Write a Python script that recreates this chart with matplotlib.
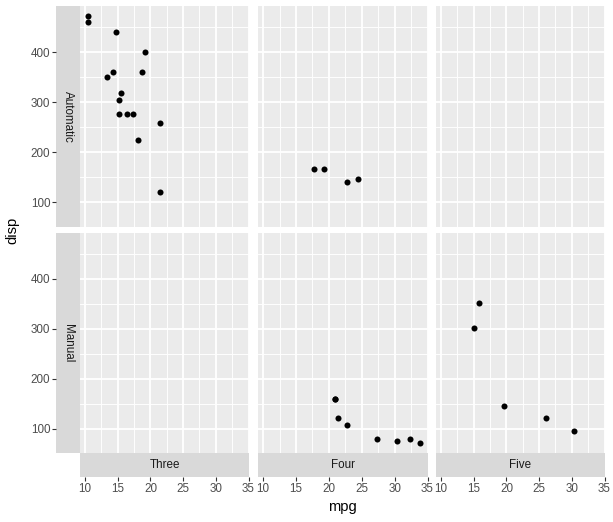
import numpy as np
import pandas as pd
import matplotlib.pyplot as plt

plt.rcParams['font.family'] = ['Liberation Sans', 'DejaVu Sans']

## the data (mtcars: mpg, disp, am, gear)
mpg = [21.0, 21.0, 22.8, 21.4, 18.7, 18.1, 14.3, 24.4, 22.8, 19.2, 17.8,
       16.4, 17.3, 15.2, 10.4, 10.4, 14.7, 32.4, 30.4, 33.9, 21.5, 15.5,
       15.2, 13.3, 19.2, 27.3, 26.0, 30.4, 15.8, 19.7, 15.0, 21.4]
disp = [160.0, 160.0, 108.0, 258.0, 360.0, 225.0, 360.0, 146.7, 140.8,
        167.6, 167.6, 275.8, 275.8, 275.8, 472.0, 460.0, 440.0, 78.7, 75.7,
        71.1, 120.1, 318.0, 304.0, 350.0, 400.0, 79.0, 120.3, 95.1, 351.0,
        145.0, 301.0, 121.0]
am = [1, 1, 1, 0, 0, 0, 0, 0, 0, 0, 0, 0, 0, 0, 0, 0, 0, 1, 1, 1, 0, 0,
      0, 0, 0, 1, 1, 1, 1, 1, 1, 1]
gear = [4, 4, 4, 3, 3, 3, 3, 4, 4, 4, 4, 3, 3, 3, 3, 3, 3, 4, 4, 4, 3, 3,
        3, 3, 3, 4, 5, 5, 5, 5, 5, 4]

row_vals = [0, 1]
row_labels = ['Automatic', 'Manual']
col_vals = [3, 4, 5]
col_labels = ['Three', 'Four', 'Five']
x_ticks = [10, 15, 20, 25, 30, 35]
y_ticks = [100, 200, 300, 400]

df = pd.DataFrame({'mpg': mpg, 'disp': disp, 'am': am, 'gear': gear})

# shared limits with ggplot's 5% expansion
def expand(v):
    lo, hi = min(v), max(v)
    pad = (hi - lo) * 0.05
    return lo - pad, hi + pad

xlim = expand(mpg)
ylim = expand(disp)

W, H = 613, 522
fig = plt.figure(figsize=(W / 100, H / 100), dpi=100)

def px_axes(x0, y0, x1, y1):
    # pixel box, y measured from the top
    a = fig.add_axes([x0 / W, 1 - y1 / H, (x1 - x0) / W, (y1 - y0) / H])
    for s in a.spines.values():
        s.set_visible(False)
    return a

col_x = [(80, 249), (258, 428), (436, 605)]
row_y = [(6, 227), (233, 453)]

tick_col = '#4D4D4D'
strip_fill = '#D9D9D9'
tick_kw = dict(length=2.6, width=0.8, color='#333333', labelsize=8.4,
               labelcolor=tick_col, pad=1.5)

for r, rv in enumerate(row_vals):
    for c, cv in enumerate(col_vals):
        x0, x1 = col_x[c]
        y0, y1 = row_y[r]
        ax = px_axes(x0, y0, x1, y1)
        ax.set_facecolor('#EBEBEB')
        sub = df[(df.am == rv) & (df.gear == cv)]
        ax.scatter(sub.mpg, sub.disp, s=19, color='black', linewidths=0, zorder=3)
        ax.set_xlim(xlim)
        ax.set_ylim(ylim)
        ax.set_xticks(x_ticks)
        ax.set_yticks(y_ticks)
        ax.set_xticks(np.arange(12.5, 35, 5), minor=True)
        ax.set_yticks([150, 250, 350, 450], minor=True)
        ax.grid(which='major', color='white', lw=1.3)
        ax.grid(which='minor', color='white', lw=0.65)
        ax.set_axisbelow(True)
        ax.tick_params(which='both', length=0, labelleft=False, labelbottom=False)

# left strips, carrying the y axis
for r, lab in enumerate(row_labels):
    y0, y1 = row_y[r]
    sa = px_axes(56, y0, 80, y1)
    sa.set_facecolor(strip_fill)
    sa.set_ylim(ylim)
    sa.set_xticks([])
    sa.set_yticks(y_ticks)
    sa.set_yticklabels([str(t) for t in y_ticks])
    sa.tick_params(axis='y', **tick_kw)
    sa.text(0.5, 0.5, lab, rotation=-90, ha='center', va='center',
            fontsize=8.4, color='#1A1A1A', transform=sa.transAxes)

# bottom strips, carrying the x axis
for c, lab in enumerate(col_labels):
    x0, x1 = col_x[c]
    sa = px_axes(x0, 453, x1, 477)
    sa.set_facecolor(strip_fill)
    sa.set_xlim(xlim)
    sa.set_yticks([])
    sa.set_xticks(x_ticks)
    sa.set_xticklabels([str(t) for t in x_ticks])
    sa.tick_params(axis='x', **tick_kw)
    sa.text(0.5, 0.5, lab, ha='center', va='center',
            fontsize=8.4, color='#1A1A1A', transform=sa.transAxes)

fig.text(342.5 / W, 1 - 507 / H, 'mpg', ha='center', va='center', fontsize=10.6)
fig.text(12 / W, 1 - 230 / H, 'disp', ha='center', va='center', fontsize=10.6,
         rotation=90)

fig.savefig('out.png', dpi=100)
